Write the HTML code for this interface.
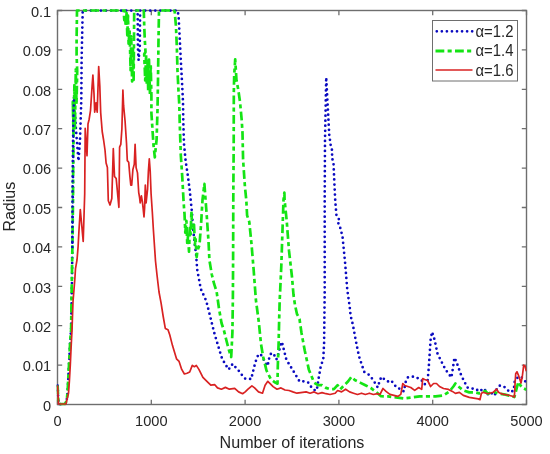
<!DOCTYPE html>
<html><head><meta charset="utf-8"><title>Radius vs iterations</title>
<style>html,body{margin:0;padding:0;background:#fff;}svg{display:block;}</style></head>
<body>
<svg width="550" height="454" viewBox="0 0 550 454" font-family="'Liberation Sans', Arial, Helvetica, sans-serif">
<defs><clipPath id="c"><rect x="56.5" y="8.5" width="470.0" height="397.5"/></clipPath></defs>
<rect width="550" height="454" fill="#fff"/>
<path d="M57.50,404.5V399.8M57.50,10.5V15.2M151.30,404.5V399.8M151.30,10.5V15.2M245.10,404.5V399.8M245.10,10.5V15.2M338.90,404.5V399.8M338.90,10.5V15.2M432.70,404.5V399.8M432.70,10.5V15.2M526.50,404.5V399.8M526.50,10.5V15.2M57.5,404.50H62.2M526.5,404.50H521.8M57.5,365.10H62.2M526.5,365.10H521.8M57.5,325.70H62.2M526.5,325.70H521.8M57.5,286.30H62.2M526.5,286.30H521.8M57.5,246.90H62.2M526.5,246.90H521.8M57.5,207.50H62.2M526.5,207.50H521.8M57.5,168.10H62.2M526.5,168.10H521.8M57.5,128.70H62.2M526.5,128.70H521.8M57.5,89.30H62.2M526.5,89.30H521.8M57.5,49.90H62.2M526.5,49.90H521.8M57.5,10.50H62.2M526.5,10.50H521.8" stroke="#6e6e6e" stroke-width="1.3" fill="none"/>
<rect x="57.5" y="10.5" width="469.0" height="394.0" fill="none" stroke="#6e6e6e" stroke-width="1.4"/>
<g clip-path="url(#c)" fill="none" stroke-linejoin="round">
<polyline points="57.6,385.5 58.5,404.0 65.0,404.0 66.7,400.5 67.6,391.7 68.5,374.0 69.4,356.4 70.3,338.8 71.1,330.0 72.0,280.0 72.5,230.0 73.0,180.0 73.5,130.0 74.0,97.0 76.0,130.0 78.5,161.0 80.0,140.0 81.3,100.0 81.6,60.0 82.7,10.5 137.6,10.5 137.9,48.0 138.6,60.3 139.8,48.0 140.1,10.5 177.5,10.5 178.6,16.0 179.7,38.0 180.8,60.0 182.0,82.0 183.0,102.0 183.3,122.0 184.0,144.0 185.7,161.7 187.6,174.0 189.7,190.0 191.1,204.0 192.0,212.9 192.9,227.0 194.4,241.0 196.1,255.0 197.2,269.7 200.8,289.0 203.0,294.0 204.5,296.4 206.9,303.6 210.6,318.2 214.2,332.7 217.8,344.8 221.5,357.0 225.1,364.2 228.8,369.5 230.7,365.4 233.3,364.0 236.0,368.0 240.0,372.0 242.6,376.0 245.2,378.6 249.3,378.6 251.1,379.3 254.4,366.0 256.6,358.4 258.8,354.0 261.0,355.0 263.2,358.4 265.4,362.8 267.6,366.0 269.8,355.0 272.0,352.9 274.2,355.0 276.4,359.5 278.6,352.9 280.8,344.0 281.9,341.9 284.1,350.7 286.3,359.5 289.6,365.0 293.0,370.5 296.3,376.0 299.6,381.5 300.8,381.3 304.8,381.3 308.3,382.6 310.9,386.6 314.1,390.0 316.7,390.5 318.8,377.3 320.7,366.7 323.3,358.8 324.1,343.0 324.7,290.0 324.7,200.0 325.0,140.0 326.2,77.3 327.6,104.0 329.4,137.5 330.0,140.0 330.9,147.0 332.6,151.5 331.7,156.7 333.5,163.0 334.4,184.0 335.3,201.7 336.5,216.0 338.8,219.0 337.3,222.0 339.3,224.5 340.0,227.0 342.5,236.5 345.1,262.9 347.3,290.0 349.6,305.9 350.6,315.8 352.8,324.4 355.5,339.0 357.3,348.2 359.0,356.4 361.7,364.5 364.3,371.9 368.5,374.4 372.0,378.5 375.3,383.4 377.7,387.5 380.2,379.3 381.8,376.8 384.3,379.3 386.7,380.1 389.2,382.6 391.9,381.5 394.9,385.5 397.9,388.5 399.8,388.5 403.8,391.4 405.8,381.5 407.8,377.5 413.7,376.5 418.7,378.5 421.7,380.5 424.6,384.5 427.6,380.5 428.6,369.6 430.6,339.8 432.0,331.9 434.6,339.8 437.5,353.7 441.5,361.7 445.5,369.6 448.5,373.6 451.4,377.5 453.0,367.6 454.4,357.7 456.4,361.7 458.4,367.6 461.3,375.6 464.3,381.5 467.3,387.5 471.3,388.5 475.2,388.5 479.2,391.4 484.0,388.4 488.0,394.3 490.6,392.3 494.6,395.6 497.2,387.7 499.8,385.7 503.8,386.4 507.1,389.7 510.4,392.3 513.7,390.3 514.7,381.7 516.4,378.4 519.7,376.5 522.3,377.8 525.6,381.7" stroke="#0a0ac0" stroke-width="2.75" stroke-linecap="round" stroke-dasharray="0 5.05"/>
<polyline points="57.6,385.5 58.5,404.0 62.0,404.0 65.0,404.0 66.7,400.5 67.6,391.7 68.5,374.0 69.4,356.4 70.3,338.8 71.1,330.0 71.5,300.0 72.0,270.0 72.5,240.0 73.0,200.0 73.2,160.0 73.5,135.0 72.8,101.9 73.6,127.9 74.4,85.1 74.9,129.4 75.8,69.4 76.5,104.6 77.2,71.1 76.6,55.0 76.6,40.0 76.8,25.0 77.0,10.5 124.0,10.5 123.7,10.5 124.3,20.1 124.9,10.6 125.7,26.5 126.6,13.1 127.3,35.3 128.0,15.7 128.6,43.7 129.6,29.2 130.6,70.2 131.2,36.3 132.1,81.4 133.0,48.6 133.6,76.7 133.6,80.0 134.0,40.0 134.2,10.5 143.8,10.5 144.2,25.0 144.8,40.0 145.5,52.0 144.2,54.2 145.2,80.5 146.1,54.9 146.8,85.3 147.5,59.4 148.2,90.6 149.0,59.6 150.0,95.5 150.7,63.6 151.4,95.4 151.4,113.0 152.5,130.0 153.5,145.0 154.8,157.3 155.5,150.0 156.6,139.6 157.5,110.0 158.0,80.0 158.5,40.0 159.0,10.5 174.0,10.5 174.7,11.6 176.0,27.0 176.9,49.0 177.5,71.0 178.6,93.0 179.3,105.0 179.7,122.0 180.8,155.0 182.3,177.6 183.5,200.0 184.3,212.0 184.5,213.5 185.3,232.7 186.4,220.9 187.3,245.3 188.0,235.9 189.0,251.6 189.8,227.9 190.7,234.2 191.4,210.9 192.1,227.6 194.0,224.6 194.9,244.4 195.6,239.1 196.7,257.1 197.4,250.8 199.5,245.0 201.0,225.0 202.5,200.0 204.4,183.8 205.2,195.0 206.8,216.4 208.6,242.9 209.4,260.0 211.8,274.5 214.2,284.2 216.6,291.5 219.0,308.5 221.5,323.0 223.9,330.3 226.3,340.0 228.8,349.7 231.2,357.0 232.4,332.7 232.9,296.4 233.1,260.0 233.3,197.0 233.7,144.0 233.8,100.0 233.8,92.9 234.2,75.0 235.2,59.4 236.5,80.5 238.2,89.3 240.0,101.7 241.7,120.0 242.5,133.0 243.1,160.0 244.9,186.4 246.3,200.0 247.1,215.4 249.3,222.0 251.5,244.0 253.7,270.5 255.9,300.0 258.8,322.0 261.0,344.0 263.2,357.0 266.5,370.5 270.9,379.3 275.3,382.6 277.5,383.7 277.8,366.0 278.6,344.0 279.1,322.0 279.7,300.0 280.2,290.0 281.3,266.0 282.4,233.0 283.5,200.0 284.4,192.7 284.6,200.0 286.8,222.0 289.0,250.7 292.0,277.0 293.5,295.0 295.0,305.0 296.9,313.8 299.5,319.0 301.4,332.3 304.8,350.8 308.8,369.4 314.1,382.6 318.0,385.2 322.0,385.2 326.0,387.9 330.0,389.2 333.9,389.2 337.6,385.2 340.3,389.2 344.3,385.2 348.2,381.3 351.4,376.8 354.8,380.0 360.1,382.6 365.4,385.2 370.7,387.9 376.0,391.9 381.0,396.2 388.0,396.4 395.9,397.4 403.8,398.4 411.7,397.4 419.7,396.4 427.6,396.4 435.6,396.4 443.5,395.4 449.4,391.4 453.4,386.5 455.4,383.5 458.4,386.5 463.3,390.4 469.3,392.4 475.2,392.4 479.2,393.4 483.0,392.1 485.3,391.0 487.9,393.7 493.2,391.7 498.5,393.7 503.8,394.3 509.1,395.6 514.4,397.0 515.7,392.3 517.0,387.0 518.4,381.7 519.7,384.4 521.7,387.0 523.7,388.4 526.3,389.7" stroke="#14e414" stroke-width="2.7" stroke-dasharray="8.8 3.3 4.1 3.3"/>
<polyline points="72.3,250 72.6,180 73,140 73.6,110 74,97" stroke="#0a0ac0" stroke-width="2.6" stroke-linecap="round" stroke-dasharray="0 5.05" stroke-dashoffset="2"/>
<polyline points="57.6,385.5 58.5,404.0 65.9,404.0 68.5,393.4 69.4,381.0 70.3,365.0 71.1,347.6 72.0,330.0 73.0,301.7 74.8,279.6 75.5,268.6 77.0,260.0 78.1,246.6 79.0,230.0 80.3,209.5 83.2,241.4 84.7,194.0 85.2,128.3 87.0,155.8 88.0,124.0 89.1,119.5 90.5,110.6 92.1,85.9 92.9,75.0 94.0,93.6 94.7,112.1 96.0,102.8 97.2,112.1 97.8,93.6 98.7,66.6 99.8,85.9 100.7,112.9 101.4,121.5 102.2,131.5 103.6,140.0 105.0,150.0 106.1,163.0 107.4,167.6 108.3,200.7 110.0,205.0 111.8,198.5 113.3,148.7 114.5,176.4 116.2,178.6 118.9,207.3 119.6,147.2 120.8,144.4 121.9,128.6 122.9,90.0 123.6,105.7 125.1,121.5 126.5,143.0 127.3,160.6 128.7,162.3 129.9,176.4 130.8,185.2 131.7,185.2 132.9,169.4 134.3,164.1 135.1,144.4 136.1,167.6 137.5,172.9 138.7,192.3 139.6,197.6 140.2,202.9 141.4,195.8 142.3,201.1 143.1,208.2 144.0,217.0 144.6,208.2 145.3,185.2 146.1,202.9 147.6,188.8 148.4,171.1 149.3,158.8 150.2,171.1 151.1,194.0 152.3,211.7 153.4,230.0 155.5,261.0 157.0,275.0 159.0,292.0 161.1,303.2 163.2,316.5 165.3,328.4 168.0,329.7 169.8,335.0 172.5,345.6 176.5,358.8 179.1,361.4 181.7,369.4 184.4,374.0 187.0,373.3 189.7,372.0 192.3,365.4 194.4,366.7 196.3,365.4 198.9,369.4 202.9,377.3 206.9,381.3 210.8,385.2 214.8,384.7 217.5,387.9 221.4,389.2 225.4,387.4 229.4,389.2 234.7,388.4 238.6,391.9 242.6,393.7 245.2,391.9 248.0,389.2 251.9,385.8 254.6,387.9 258.5,391.9 262.5,393.2 265.1,385.2 267.8,381.3 270.4,383.9 273.1,386.6 277.0,389.2 281.0,387.9 285.0,390.0 289.0,390.5 292.9,391.9 296.9,393.2 300.8,392.6 306.1,391.9 310.1,393.2 314.1,391.9 318.0,393.7 322.0,392.6 326.0,393.7 330.0,394.5 335.2,393.2 337.6,390.5 341.6,391.9 345.6,389.2 349.6,391.9 353.5,393.2 357.5,394.5 361.5,393.2 365.4,394.5 369.4,393.2 373.4,394.5 377.3,393.7 380.0,394.4 383.0,388.5 386.0,391.4 389.9,394.4 393.9,395.4 397.9,396.4 400.8,394.4 402.8,383.5 404.8,385.5 407.8,386.5 410.8,387.5 414.7,390.4 418.7,387.5 421.7,389.4 422.7,378.5 424.6,379.5 427.6,380.5 430.6,386.5 433.6,383.5 436.5,383.5 439.5,386.5 443.5,388.5 448.5,389.4 452.4,391.4 455.4,393.4 459.4,392.4 463.3,395.4 469.3,397.4 475.2,398.4 478.2,398.9 480.0,399.6 481.3,393.7 482.6,392.3 485.3,393.0 487.9,393.7 490.6,393.0 493.2,392.3 496.5,389.0 498.5,392.3 501.2,393.7 503.8,394.3 507.8,395.0 511.7,396.0 514.4,397.0 515.1,383.0 515.7,373.8 517.0,371.8 518.4,375.1 519.7,379.1 521.0,383.0 522.3,376.5 523.7,365.2 525.0,365.9 526.3,371.2" stroke="#d92222" stroke-width="1.7"/>
</g>
<text transform="translate(57.50,425.90) scale(1,1.055)" font-size="14.6" text-anchor="middle" fill="#262626">0</text><text transform="translate(151.30,425.90) scale(1,1.055)" font-size="14.6" text-anchor="middle" fill="#262626">1000</text><text transform="translate(245.10,425.90) scale(1,1.055)" font-size="14.6" text-anchor="middle" fill="#262626">2000</text><text transform="translate(338.90,425.90) scale(1,1.055)" font-size="14.6" text-anchor="middle" fill="#262626">3000</text><text transform="translate(432.70,425.90) scale(1,1.055)" font-size="14.6" text-anchor="middle" fill="#262626">4000</text><text transform="translate(526.50,425.90) scale(1,1.055)" font-size="14.6" text-anchor="middle" fill="#262626">5000</text><text transform="translate(51.20,410.80) scale(1,1.055)" font-size="14.6" text-anchor="end" fill="#262626">0</text><text transform="translate(51.20,371.40) scale(1,1.055)" font-size="14.6" text-anchor="end" fill="#262626">0.01</text><text transform="translate(51.20,332.00) scale(1,1.055)" font-size="14.6" text-anchor="end" fill="#262626">0.02</text><text transform="translate(51.20,292.60) scale(1,1.055)" font-size="14.6" text-anchor="end" fill="#262626">0.03</text><text transform="translate(51.20,253.20) scale(1,1.055)" font-size="14.6" text-anchor="end" fill="#262626">0.04</text><text transform="translate(51.20,213.80) scale(1,1.055)" font-size="14.6" text-anchor="end" fill="#262626">0.05</text><text transform="translate(51.20,174.40) scale(1,1.055)" font-size="14.6" text-anchor="end" fill="#262626">0.06</text><text transform="translate(51.20,135.00) scale(1,1.055)" font-size="14.6" text-anchor="end" fill="#262626">0.07</text><text transform="translate(51.20,95.60) scale(1,1.055)" font-size="14.6" text-anchor="end" fill="#262626">0.08</text><text transform="translate(51.20,56.20) scale(1,1.055)" font-size="14.6" text-anchor="end" fill="#262626">0.09</text><text transform="translate(51.20,16.80) scale(1,1.055)" font-size="14.6" text-anchor="end" fill="#262626">0.1</text>
<text transform="translate(292.00,447.90) scale(1,1.03)" font-size="16.1" text-anchor="middle" fill="#262626">Number of iterations</text>
<text transform="translate(14.80,206.70) rotate(-90) scale(1,1.07)" font-size="16" text-anchor="middle" fill="#262626">Radius</text>
<rect x="432.5" y="20.5" width="85.0" height="60.5" fill="#fff" stroke="#6e6e6e" stroke-width="1"/>
<path d="M436.8,31.3H472.5" stroke="#0a0ac0" stroke-width="2.75" stroke-linecap="round" stroke-dasharray="0 5.05"/>
<path d="M435.5,51H472.5" stroke="#14e414" stroke-width="2.9" stroke-dasharray="8.8 3.3 4.1 3.3"/>
<path d="M435.5,70H472.5" stroke="#d92222" stroke-width="1.7"/>
<text transform="translate(475.50,37.10) scale(1,1.09)" font-size="14.9" text-anchor="start" fill="#262626">α=1.2</text>
<text transform="translate(475.50,56.40) scale(1,1.09)" font-size="14.9" text-anchor="start" fill="#262626">α=1.4</text>
<text transform="translate(475.50,75.60) scale(1,1.09)" font-size="14.9" text-anchor="start" fill="#262626">α=1.6</text>
</svg>
</body></html>
